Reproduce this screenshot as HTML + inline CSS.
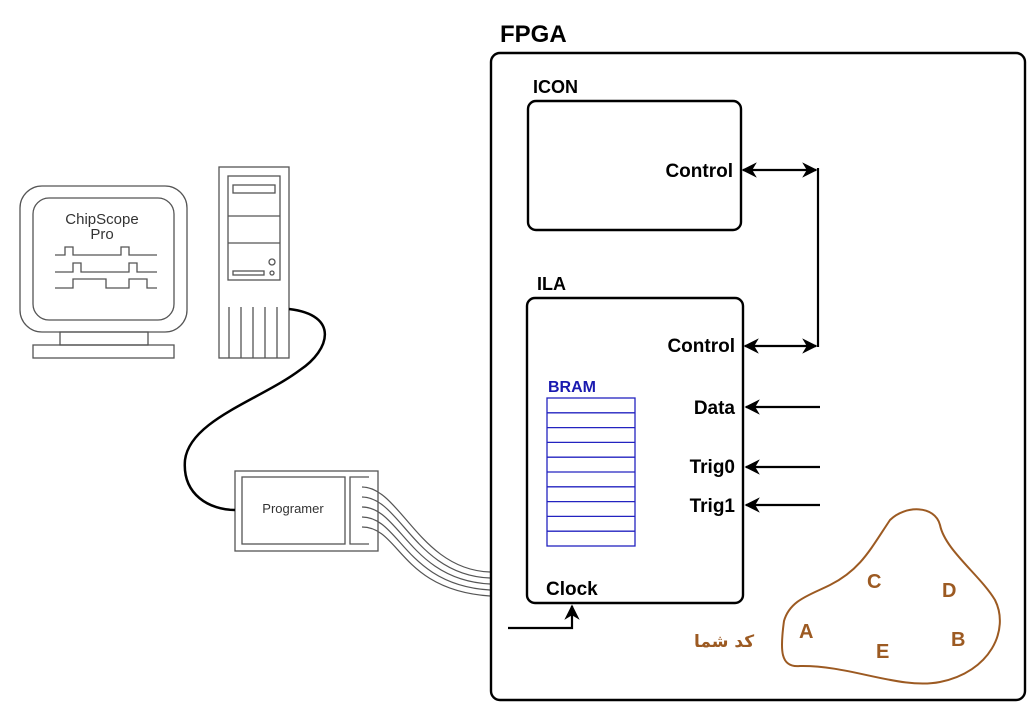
<!DOCTYPE html>
<html><head><meta charset="utf-8"><style>html,body{margin:0;padding:0;background:#fff;width:1030px;height:706px;overflow:hidden}</style></head><body>
<svg width="1030" height="706" viewBox="0 0 1030 706" xmlns="http://www.w3.org/2000/svg">
<defs><marker id="a" viewBox="0 0 10 10" refX="9" refY="5" markerWidth="7" markerHeight="7" orient="auto-start-reverse"><path d="M0,0 L10,5 L0,10 L3,5z" fill="#000"/></marker></defs>
<g font-family="Liberation Sans, DejaVu Sans, sans-serif">
<!-- monitor -->
<g fill="none" stroke="#555" stroke-width="1.3">
<rect x="20" y="186" width="167" height="146" rx="22"/>
<rect x="33" y="198" width="141" height="122" rx="16"/>
<rect x="60" y="332" width="88" height="13"/>
<rect x="33" y="345" width="141" height="13"/>
<path d="M55,255 H65 V247 H73 V255 H121 V247 H129 V255 H157"/>
<path d="M55,272 H73 V263 H81 V272 H129 V263 H137 V272 H157"/>
<path d="M55,288 H73 V279 H106 V288 H129 V279 H147 V288 H157"/>
<!-- tower -->
<rect x="219" y="167" width="70" height="191"/>
<rect x="228" y="176" width="52" height="104"/>
<rect x="233" y="185" width="42" height="8"/>
<line x1="228" y1="216" x2="280" y2="216"/><line x1="228" y1="243" x2="280" y2="243"/>
<rect x="233" y="271" width="31" height="4"/>
<circle cx="272" cy="262" r="3"/><circle cx="272" cy="273" r="2"/>
<path d="M229,307V358M241,307V358M253,307V358M265,307V358M277,307V358"/>
<!-- programmer -->
<rect x="235" y="471" width="143" height="80"/>
<rect x="242" y="477" width="103" height="67"/>
<path d="M369,477 H350 V544 H369"/>
</g>
<text x="102" y="224" font-size="15" text-anchor="middle" fill="#333">ChipScope</text>
<text x="102" y="239" font-size="15" text-anchor="middle" fill="#333">Pro</text>
<text x="293" y="513" font-size="13" text-anchor="middle" fill="#333">Programer</text>
<path d="M289,309 C340,315 330,350 300,370 C260,400 190,420 185,460 C182,495 210,510 235,510" fill="none" stroke="#000" stroke-width="2.5"/>
<g fill="none" stroke="#555" stroke-width="1.2">
<path d="M362,487 C400,487 420,570 490,572"/>
<path d="M362,497 C400,497 415,575 490,578"/>
<path d="M362,507 C400,507 410,580 490,584"/>
<path d="M362,517 C400,517 405,585 490,590"/>
<path d="M362,527 C400,527 400,590 490,596"/>
</g>
<!-- FPGA -->
<text x="500" y="42" font-size="24" font-weight="bold">FPGA</text>
<rect x="491" y="53" width="534" height="647" rx="9" fill="none" stroke="#000" stroke-width="2.4"/>
<text x="533" y="93" font-size="18" font-weight="bold">ICON</text>
<rect x="528" y="101" width="213" height="129" rx="8" fill="none" stroke="#000" stroke-width="2.4"/>
<text x="733" y="177" font-size="19" font-weight="bold" text-anchor="end">Control</text>
<text x="537" y="290" font-size="18" font-weight="bold">ILA</text>
<rect x="527" y="298" width="216" height="305" rx="8" fill="none" stroke="#000" stroke-width="2.4"/>
<text x="735" y="352" font-size="19" font-weight="bold" text-anchor="end">Control</text>
<text x="735" y="414" font-size="19" font-weight="bold" text-anchor="end">Data</text>
<text x="735" y="473" font-size="19" font-weight="bold" text-anchor="end">Trig0</text>
<text x="735" y="512" font-size="19" font-weight="bold" text-anchor="end">Trig1</text>
<text x="546" y="595" font-size="19" font-weight="bold">Clock</text>
<g stroke="#000" stroke-width="2.2" fill="none">
<line x1="743" y1="170" x2="816" y2="170" marker-start="url(#a)" marker-end="url(#a)"/>
<line x1="818" y1="168" x2="818" y2="347"/>
<line x1="745" y1="346" x2="816" y2="346" marker-start="url(#a)" marker-end="url(#a)"/>
<line x1="820" y1="407" x2="746" y2="407" marker-end="url(#a)"/>
<line x1="820" y1="467" x2="746" y2="467" marker-end="url(#a)"/>
<line x1="820" y1="505" x2="746" y2="505" marker-end="url(#a)"/>
<path d="M508,628 H572 V606" marker-end="url(#a)"/>
</g>
<text x="548" y="392" font-size="16" font-weight="bold" fill="#1a1ab0">BRAM</text>
<g stroke="#2323c0" stroke-width="1.3" fill="none">
<rect x="547" y="398" width="88" height="148"/>
<path d="M547,412.8H635M547,427.6H635M547,442.4H635M547,457.2H635M547,472H635M547,486.8H635M547,501.6H635M547,516.4H635M547,531.2H635"/>
</g>
<!-- blob -->
<path d="M784,621 C790,600 810,595 830,585 C860,570 870,550 890,520 C905,505 935,505 940,525 C945,550 980,575 995,600 C1010,630 990,672 940,682 C900,690 850,665 800,666 C780,668 780,650 784,621 Z" fill="none" stroke="#9c5a22" stroke-width="2"/>
<g fill="#9c5a22" font-weight="bold" font-size="20">
<text x="867" y="588">C</text><text x="942" y="597">D</text><text x="799" y="638">A</text>
<text x="951" y="646">B</text><text x="876" y="658">E</text>
</g>
<text x="694" y="647" font-size="17" font-weight="bold" fill="#9c5a22" font-family="DejaVu Sans, sans-serif">کد شما</text>
</g>
</svg>
</body></html>
